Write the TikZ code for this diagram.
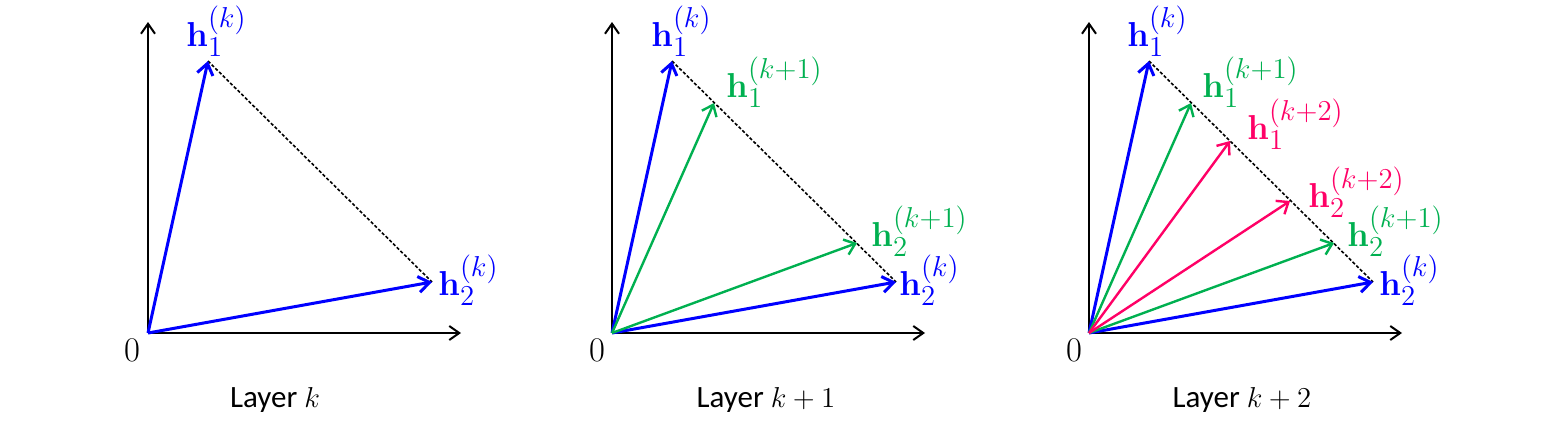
\documentclass[tikz,border=0pt]{standalone}
\usepackage[no-math]{fontspec}
\newfontfamily\layerfont{Carlito}
\DeclareMathSizes{18}{18}{13.5}{10}
\usetikzlibrary{arrows.meta}
\definecolor{hblue}{RGB}{0,0,255}
\definecolor{hgreen}{RGB}{0,176,80}
\definecolor{hred}{RGB}{255,0,102}
\tikzset{
    axis/.style = {-{Straight Barb[length=5pt,width=7pt]},line width=1pt,black},
    vecb/.style = {-{Straight Barb[length=5.5pt,width=8pt]},line width=1.5pt,hblue},
    vecg/.style = {-{Straight Barb[length=5pt,width=8pt]},line width=1.2pt,hgreen},
    vecr/.style = {-{Straight Barb[length=5pt,width=8pt]},line width=1.2pt,hred},
    hull/.style = {line width=0.8pt,black,dash pattern=on 1.6pt off 1pt}, % segment h1--h2
    labb/.style = {anchor=west,inner sep=0pt,hblue,font=\fontsize{18}{20}\selectfont},
    labg/.style = {anchor=west,inner sep=0pt,hgreen,font=\fontsize{18}{20}\selectfont},
    labr/.style = {anchor=west,inner sep=0pt,hred,font=\fontsize{18}{20}\selectfont},
    zero/.style = {inner sep=0pt,font=\fontsize{17}{20}\selectfont},
    layer/.style = {anchor=base,inner sep=0pt,font=\fontsize{15.5}{18}\layerfont}
}
\begin{document}
\begin{tikzpicture}[x=0.5pt,y=0.5pt]
\path[use as bounding box] (0,0) rectangle (1557,430);
%
% Layer k
\coordinate (o1) at (148,97);
\coordinate (y1) at (148,408);
\coordinate (x1) at (461,97);
\coordinate (a1) at (208,369);
\coordinate (b1) at (432,148);
\draw[hull] (a1) -- (b1);
\draw[axis] (o1) -- (y1);
\draw[axis] (o1) -- (x1);
\draw[vecb] (o1) -- (a1);
\draw[vecb] (o1) -- (b1);
\node[labb] (la1) at (186,399) {$\mathbf{h}_1^{(k)}$};
\node[labb] (lb1) at (438,150) {$\mathbf{h}_2^{(k)}$};
\node[zero] (z1) at (132,80) {$0$};
\node[layer] (c1) at (275,23) {Layer $k$};
%
% Layer k+1
\coordinate (o2) at (612,97);
\coordinate (y2) at (612,408);
\coordinate (x2) at (925,97);
\coordinate (a2) at (672,369);
\coordinate (b2) at (896,148);
\coordinate (ga2) at (714,327);
\coordinate (gb2) at (857,187);
\draw[hull] (a2) -- (b2);
\draw[axis] (o2) -- (y2);
\draw[axis] (o2) -- (x2);
\draw[vecb] (o2) -- (a2);
\draw[vecb] (o2) -- (b2);
\draw[vecg] (o2) -- (ga2);
\draw[vecg] (o2) -- (gb2);
\node[labb] (la2) at (651,399) {$\mathbf{h}_1^{(k)}$};
\node[labb] (lb2) at (899,150) {$\mathbf{h}_2^{(k)}$};
\node[labg] (lga2) at (726,348) {$\mathbf{h}_1^{(k+1)}$};
\node[labg] (lgb2) at (871,199) {$\mathbf{h}_2^{(k+1)}$};
\node[zero] (z2) at (597,80) {$0$};
\node[layer] (c2) at (766,23) {Layer $k+1$};
%
% Layer k+2
\coordinate (o3) at (1089,97);
\coordinate (y3) at (1089,408);
\coordinate (x3) at (1402,97);
\coordinate (a3) at (1149,369);
\coordinate (b3) at (1373,148);
\coordinate (ga3) at (1191,327);
\coordinate (gb3) at (1334,187);
\coordinate (ra3) at (1230,289);
\coordinate (rb3) at (1290,229);
\draw[hull] (a3) -- (b3);
\draw[axis] (o3) -- (y3);
\draw[axis] (o3) -- (x3);
\draw[vecb] (o3) -- (a3);
\draw[vecb] (o3) -- (b3);
\draw[vecg] (o3) -- (ga3);
\draw[vecg] (o3) -- (gb3);
\draw[vecr] (o3) -- (ra3);
\draw[vecr] (o3) -- (rb3);
\node[labb] (la3) at (1127,399) {$\mathbf{h}_1^{(k)}$};
\node[labb] (lb3) at (1379,150) {$\mathbf{h}_2^{(k)}$};
\node[labg] (lga3) at (1202,348) {$\mathbf{h}_1^{(k+1)}$};
\node[labg] (lgb3) at (1347,199) {$\mathbf{h}_2^{(k+1)}$};
\node[labr] (lra3) at (1247,306) {$\mathbf{h}_1^{(k+2)}$};
\node[labr] (lrb3) at (1308,238) {$\mathbf{h}_2^{(k+2)}$};
\node[zero] (z3) at (1074,80) {$0$};
\node[layer] (c3) at (1242,23) {Layer $k+2$};

\end{tikzpicture}
\end{document}
